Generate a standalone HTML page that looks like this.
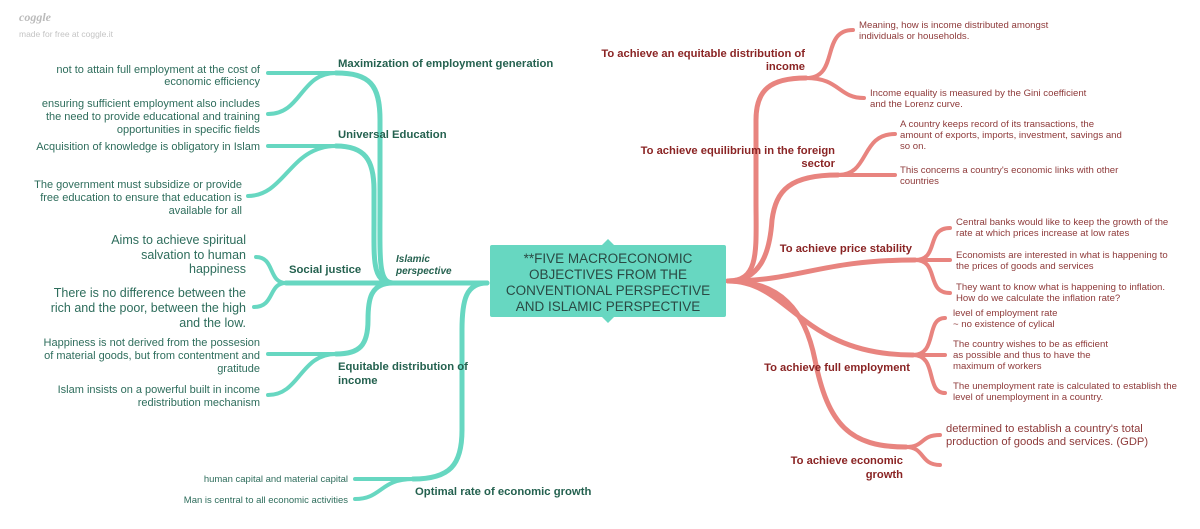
<!DOCTYPE html>
<html><head><meta charset="utf-8"><style>
html,body{margin:0;padding:0;background:#fff;}
svg{display:block;font-family:"Liberation Sans",sans-serif;}
.t{stroke:#67d7c1;fill:none;stroke-linecap:round;}
.r{stroke:#e8847f;fill:none;stroke-linecap:round;}
.gl{fill:#2e6d5c;font-size:11px;}
.gb{fill:#24614f;font-size:11.3px;font-weight:bold;}
.rl{fill:#8e3a3a;font-size:9.6px;}
.rb{fill:#8a2424;font-size:11.2px;font-weight:bold;}
</style></head><body>
<svg width="1200" height="529" viewBox="0 0 1200 529">
<text x="19" y="21" fill="#bbb" font-size="12" font-style="italic" font-weight="bold" font-family="Liberation Serif,serif">coggle</text>
<text x="19" y="37" fill="#c4c4c4" font-size="8.5">made for free at coggle.it</text>

<g class="t">
<path d="M487 283 L393 283" stroke-width="5"/>
<path d="M393 283 C378 283 380 260 380 200 L380 120 C380 85 370 73 336 73" stroke-width="5"/>
<path d="M393 283 C372 283 374 260 374 220 L374 190 C374 160 365 146 336 146" stroke-width="5"/>
<path d="M393 283 L286 283" stroke-width="5"/>
<path d="M393 283 C370 283 368 300 368 320 C368 345 360 354 336 354" stroke-width="5"/>
<path d="M487 283 C466 283 462 300 462 330 L462 430 C462 465 450 479 413 479" stroke-width="5"/>
<path d="M336 73 L268 73" stroke-width="4"/>
<path d="M336 73 C300 73 302 114 268 114" stroke-width="4"/>
<path d="M336 146 L268 146" stroke-width="4"/>
<path d="M336 146 C290 146 285 196 248 196" stroke-width="4"/>
<path d="M286 283 C268 283 275 257 256 257" stroke-width="4"/>
<path d="M286 283 C268 283 275 307 254 307" stroke-width="4"/>
<path d="M336 354 L268 354" stroke-width="4"/>
<path d="M336 354 C300 354 300 395 268 395" stroke-width="4"/>
<path d="M413 479 L355 479" stroke-width="4"/>
<path d="M413 479 C380 479 382 499 355 499" stroke-width="4"/>
</g>

<g class="r">
<path d="M728 281 C760 281 756 250 756 200 L756 120 C756 90 770 78 806 78" stroke-width="5"/>
<path d="M728 281 C762 281 770 250 772 220 C776 190 790 175 838 175" stroke-width="5"/>
<path d="M728 281 C800 281 820 260 915 260" stroke-width="5"/>
<path d="M728 281 C790 281 800 355 913 355" stroke-width="5"/>
<path d="M728 281 C780 281 805 310 815 360 C828 425 850 447 906 447" stroke-width="5"/>
<path d="M806 78 C840 78 820 30 853 30" stroke-width="4"/>
<path d="M806 78 C840 78 838 98 864 98" stroke-width="4"/>
<path d="M838 175 C870 175 860 134 895 134" stroke-width="4"/>
<path d="M838 175 L895 175" stroke-width="4"/>
<path d="M915 260 C940 260 925 228 950 228" stroke-width="4"/>
<path d="M915 260 L950 260" stroke-width="4"/>
<path d="M915 260 C940 260 925 293 950 293" stroke-width="4"/>
<path d="M913 355 C938 355 925 318 945 318" stroke-width="4"/>
<path d="M913 355 L945 355" stroke-width="4"/>
<path d="M913 355 C938 355 925 393 945 393" stroke-width="4"/>
<path d="M906 447 C925 447 920 435 940 435" stroke-width="4"/>
<path d="M906 447 C925 447 920 465 940 465" stroke-width="4"/>
</g>

<rect x="490" y="245" width="236" height="72" rx="2" fill="#67d7c1"/>
<polygon points="602,245 608,239 614,245" fill="#67d7c1"/>
<polygon points="602,317 608,323 614,317" fill="#67d7c1"/>
<g fill="#2a4a44" font-size="13.5" text-anchor="middle">
<text x="608" y="263">**FIVE MACROECONOMIC</text>
<text x="608" y="279">OBJECTIVES FROM THE</text>
<text x="608" y="295">CONVENTIONAL PERSPECTIVE</text>
<text x="608" y="311">AND ISLAMIC PERSPECTIVE</text>
</g>

<text class="gb" x="338" y="67">Maximization of employment generation</text>
<text class="gb" x="338" y="138">Universal Education</text>
<text class="gb" x="289" y="273" font-size="12.5">Social justice</text>
<text x="396" y="262" fill="#24614f" font-size="10" font-weight="bold" font-style="italic">Islamic</text>
<text x="396" y="274" fill="#24614f" font-size="10" font-weight="bold" font-style="italic">perspective</text>
<text class="gb" x="338" y="370">Equitable distribution of</text>
<text class="gb" x="338" y="384">income</text>
<text class="gb" x="415" y="495">Optimal rate of economic growth</text>

<g text-anchor="end" class="gl">
<text x="260" y="73">not to attain full employment at the cost of</text>
<text x="260" y="85">economic efficiency</text>
<text x="260" y="107">ensuring sufficient employment also includes</text>
<text x="260" y="120">the need to provide educational and training</text>
<text x="260" y="133">opportunities in specific fields</text>
<text x="260" y="150">Acquisition of knowledge is obligatory in Islam</text>
<text x="242" y="188">The government must subsidize or provide</text>
<text x="242" y="201">free education to ensure that education is</text>
<text x="242" y="214">available for all</text>
<text x="246" y="244" font-size="12.5">Aims to achieve spiritual</text>
<text x="246" y="259" font-size="12.5">salvation to human</text>
<text x="246" y="273" font-size="12.5">happiness</text>
<text x="246" y="297" font-size="12.5">There is no difference between the</text>
<text x="246" y="312" font-size="12.5">rich and the poor, between the high</text>
<text x="246" y="327" font-size="12.5">and the low.</text>
<text x="260" y="346">Happiness is not derived from the possesion</text>
<text x="260" y="359">of material goods, but from contentment and</text>
<text x="260" y="372">gratitude</text>
<text x="260" y="393">Islam insists on a powerful built in income</text>
<text x="260" y="406">redistribution mechanism</text>
<text x="348" y="482" font-size="9.5">human capital and material capital</text>
<text x="348" y="503" font-size="9.5">Man is central to all economic activities</text>
</g>

<g text-anchor="end" class="rb">
<text x="805" y="57">To achieve an equitable distribution of</text>
<text x="805" y="70">income</text>
<text x="835" y="154">To achieve equilibrium in the foreign</text>
<text x="835" y="167">sector</text>
<text x="912" y="252">To achieve price stability</text>
<text x="910" y="371">To achieve full employment</text>
<text x="903" y="464">To achieve economic</text>
<text x="903" y="478">growth</text>
</g>
<g class="rl">
<text x="859" y="28">Meaning, how is income distributed amongst</text>
<text x="859" y="39">individuals or households.</text>
<text x="870" y="96">Income equality is measured by the Gini coefficient</text>
<text x="870" y="107">and the Lorenz curve.</text>
<text x="900" y="127">A country keeps record of its transactions, the</text>
<text x="900" y="138">amount of exports, imports, investment, savings and</text>
<text x="900" y="149">so on.</text>
<text x="900" y="173">This concerns a country's economic links with other</text>
<text x="900" y="184">countries</text>
<text x="956" y="225">Central banks would like to keep the growth of the</text>
<text x="956" y="236">rate at which prices increase at low rates</text>
<text x="956" y="258">Economists are interested in what is happening to</text>
<text x="956" y="269">the prices of goods and services</text>
<text x="956" y="290">They want to know what is happening to inflation.</text>
<text x="956" y="301">How do we calculate the inflation rate?</text>
<text x="953" y="316">level of employment rate</text>
<text x="953" y="327">~ no existence of cylical</text>
<text x="953" y="347">The country wishes to be as efficient</text>
<text x="953" y="358">as possible and thus to have the</text>
<text x="953" y="369">maximum of workers</text>
<text x="953" y="389">The unemployment rate is calculated to establish the</text>
<text x="953" y="400">level of unemployment in a country.</text>
<text x="946" y="432" font-size="11.2">determined to establish a country's total</text>
<text x="946" y="445" font-size="11.2">production of goods and services. (GDP)</text>
</g>
</svg>
</body></html>
